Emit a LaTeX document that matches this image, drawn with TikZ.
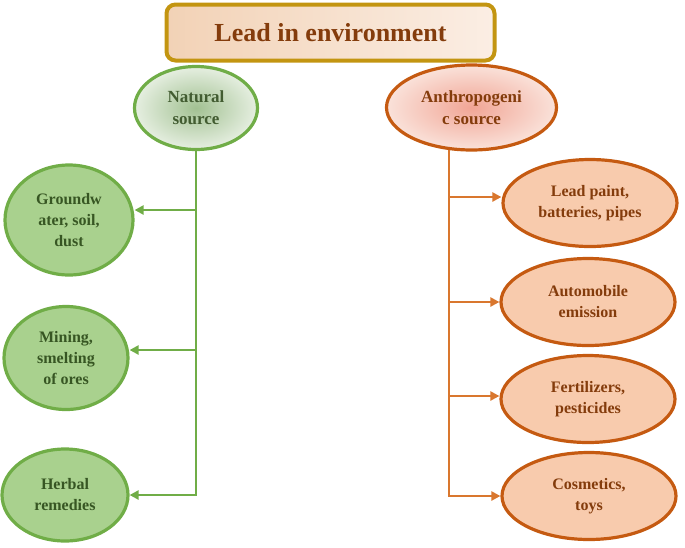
\documentclass[tikz,border=0pt]{standalone}
\usepackage{fontspec}
\setmainfont{Liberation Serif}
\usepackage{tikz}
\usetikzlibrary{arrows.meta,positioning,shapes,calc}
\definecolor{leadgold}{HTML}{C39511}
\definecolor{leadleft}{HTML}{F2D2B6}
\definecolor{leadright}{HTML}{FBEEE4}
\definecolor{leadtext}{HTML}{843C0C}
\definecolor{natborder}{HTML}{70AD47}
\definecolor{natfill}{HTML}{A9D18E}
\definecolor{natin}{HTML}{A2C192}
\definecolor{natout}{HTML}{E6EFE1}
\definecolor{nattext}{HTML}{375623}
\definecolor{anthborder}{HTML}{C55A11}
\definecolor{anthline}{HTML}{D9772E}
\definecolor{anthfill}{HTML}{F8CBAD}
\definecolor{anthin}{HTML}{F1A595}
\definecolor{anthout}{HTML}{FAE2DA}
\tikzset{
  natpre/.style={{Triangle[length=9pt,width=9pt]}-,line width=2.3pt,draw=natborder},
  anthpost/.style={-{Triangle[length=9pt,width=9pt]},line width=2.3pt,draw=anthline},
}

\begin{document}
\begin{tikzpicture}[x=1pt,y=-1pt,
      titlebox/.style={rectangle,rounded corners=9pt,draw=leadgold,line width=4pt,
        left color=leadleft,right color=leadright,text=leadtext,
        font=\bfseries\fontsize{26}{30}\selectfont,minimum width=328pt,minimum height=56pt},
      blob/.style={ellipse,line width=3.2pt,align=center,inner sep=0pt},
      source/.style={blob,font=\bfseries\fontsize{17}{22}\selectfont},
      leaf/.style={blob,font=\bfseries\fontsize{16}{21}\selectfont},
      natleaf/.style={leaf,draw=natborder,fill=natfill,text=nattext},
      anthleaf/.style={leaf,draw=anthborder,fill=anthfill,text=leadtext,
        minimum width=174pt,minimum height=87pt},]
      \useasboundingbox (0,0) rectangle (685,547);
      \node[titlebox] (lead) at (330.5,32.5) {Lead in environment};

      \node[source,draw=natborder,inner color=natin,outer color=natout,
        text=nattext!85!gray,minimum width=123pt,minimum height=83pt] (nat) at (196,108) {Natural\\source};
      \node[source,draw=anthborder,inner color=anthin,outer color=anthout,
        text=leadtext,minimum width=170pt,minimum height=85pt] (anth) at (471.5,107.5) {Anthropogeni\\c source};

      \node[natleaf,minimum width=128pt,minimum height=110pt] (nat1) at (69,220) {Groundw\\ater, soil,\\dust};
      \node[natleaf,minimum width=124pt,minimum height=103pt] (nat2) at (66,358) {Mining,\\smelting\\of ores};
      \node[natleaf,minimum width=126pt,minimum height=92pt] (nat3) at (65,495) {Herbal\\remedies};

      \node[anthleaf] (anth1) at (590,203) {Lead paint,\\batteries, pipes};
      \node[anthleaf] (anth2) at (588,302) {Automobile\\emission};
      \node[anthleaf] (anth3) at (588,399) {Fertilizers,\\pesticides};
      \node[anthleaf] (anth4) at (589,496) {Cosmetics,\\toys};

      \draw[natpre] (nat3.east) -| (nat.south);
      \draw[natpre] ([yshift=10pt]nat1.east) coordinate (nat1in) -- (nat1in -| nat.south);
      \draw[natpre] ([yshift=8pt]nat2.east) coordinate (nat2in) -- (nat2in -| nat.south);

      \coordinate (anthdown) at (anth.242);
      \draw[anthpost] (anthdown) |- (anth4.west);
      \path ([yshift=6pt]anth1.west) coordinate (anth1in);
      \draw[anthpost] (anth1in -| anthdown) -- (anth1in);
      \draw[anthpost] (anth2.west -| anthdown) -- (anth2.west);
      \path ([yshift=3pt]anth3.west) coordinate (anth3in);
      \draw[anthpost] (anth3in -| anthdown) -- (anth3in);
      \end{tikzpicture}
\end{document}
